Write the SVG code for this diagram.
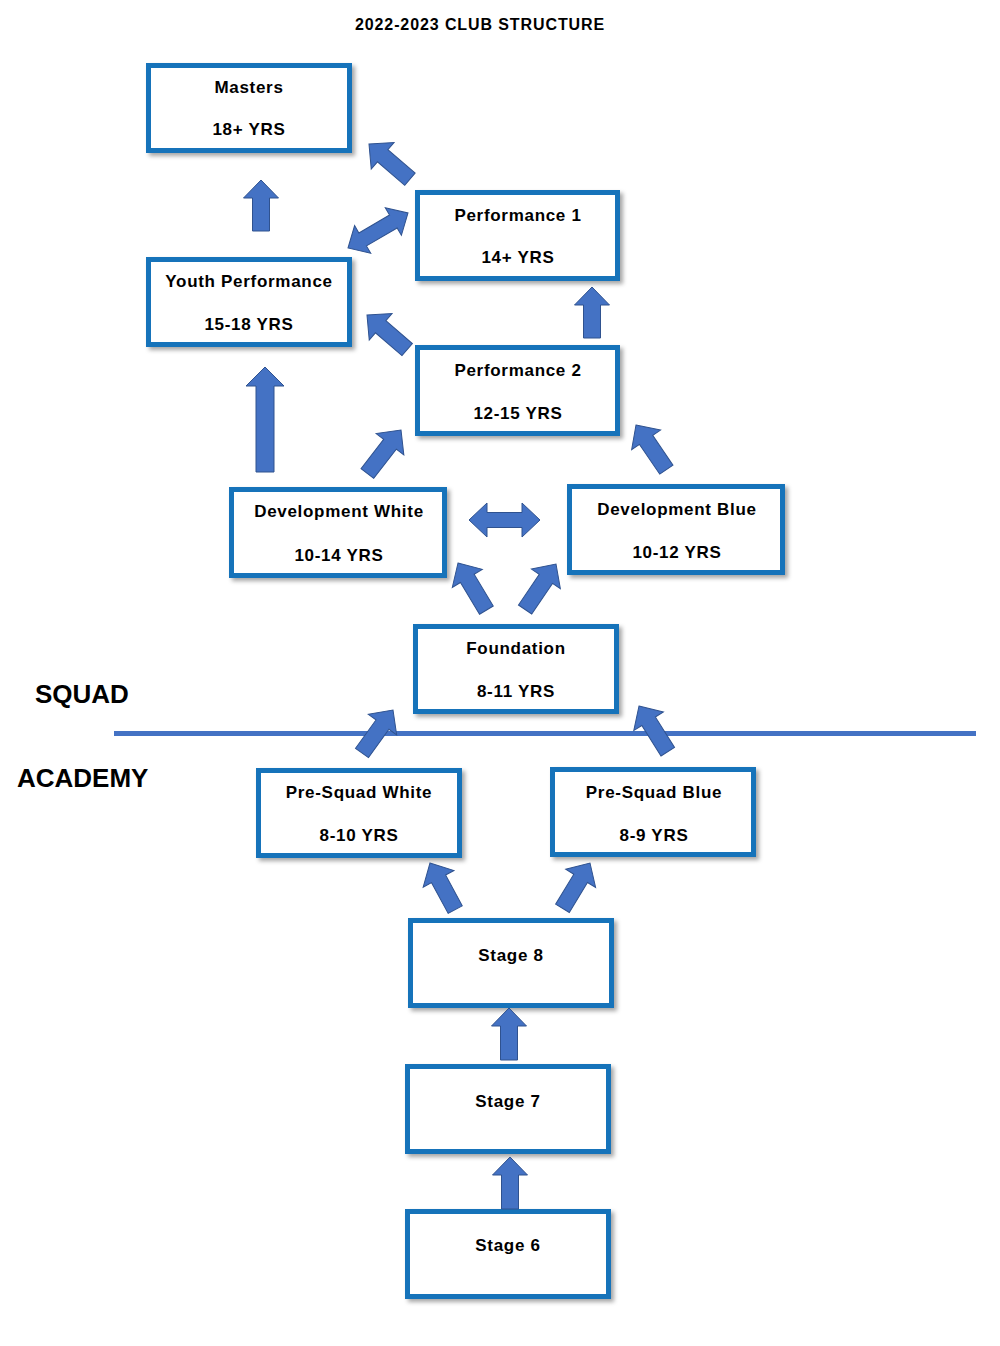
<svg xmlns="http://www.w3.org/2000/svg" width="1000" height="1346" viewBox="0 0 1000 1346">
<defs>
<filter id="sh" x="-10%" y="-10%" width="130%" height="130%">
<feDropShadow dx="3" dy="3" stdDeviation="2" flood-color="#000" flood-opacity="0.35"/>
</filter>
<style>
.box{fill:#fff;stroke:#1873ba;stroke-width:5;filter:url(#sh)}
.t{font-family:"Liberation Sans",Arial,sans-serif;font-weight:bold;font-size:17px;fill:#000;text-anchor:middle;letter-spacing:0.7px}
.big{font-family:"Liberation Sans",Arial,sans-serif;font-weight:bold;font-size:26px;fill:#000}
.ar{fill:#4472c4;stroke:#2f528f;stroke-width:1}
</style>
</defs>
<rect width="1000" height="1346" fill="#fff"/>
<text class="t" x="480" y="30" style="font-size:16px;letter-spacing:0.9px">2022-2023 CLUB STRUCTURE</text>
<text class="big" x="35" y="703">SQUAD</text>
<text class="big" x="17" y="787">ACADEMY</text>
<line x1="114" y1="733.5" x2="976" y2="733.5" stroke="#4472c4" stroke-width="5"/>

<g id="masters"><rect class="box" x="148.5" y="65.5" width="201" height="85"/><text class="t" x="249" y="93">Masters</text><text class="t" x="249" y="135">18+ YRS</text></g>
<g id="performance1"><rect class="box" x="417.5" y="192.5" width="200" height="86"/><text class="t" x="518" y="221">Performance 1</text><text class="t" x="518" y="263">14+ YRS</text></g>
<g id="youth"><rect class="box" x="148.5" y="259.5" width="201" height="85"/><text class="t" x="249" y="287">Youth Performance</text><text class="t" x="249" y="330">15-18 YRS</text></g>
<g id="performance2"><rect class="box" x="417.5" y="347.5" width="200" height="86"/><text class="t" x="518" y="376">Performance 2</text><text class="t" x="518" y="419">12-15 YRS</text></g>
<g id="devwhite"><rect class="box" x="231.5" y="489.5" width="213" height="86"/><text class="t" x="339" y="517">Development White</text><text class="t" x="339" y="561">10-14 YRS</text></g>
<g id="devblue"><rect class="box" x="569.5" y="486.5" width="213" height="86"/><text class="t" x="677" y="515">Development Blue</text><text class="t" x="677" y="558">10-12 YRS</text></g>
<g id="foundation"><rect class="box" x="415.5" y="626.5" width="201" height="85"/><text class="t" x="516" y="654">Foundation</text><text class="t" x="516" y="697">8-11 YRS</text></g>
<g id="presquadwhite"><rect class="box" x="258.5" y="770.5" width="201" height="85"/><text class="t" x="359" y="798">Pre-Squad White</text><text class="t" x="359" y="841">8-10 YRS</text></g>
<g id="presquadblue"><rect class="box" x="552.5" y="769.5" width="201" height="85"/><text class="t" x="654" y="798">Pre-Squad Blue</text><text class="t" x="654" y="841">8-9 YRS</text></g>
<g id="stage8"><rect class="box" x="410.5" y="920.5" width="201" height="85"/><text class="t" x="511" y="961">Stage 8</text></g>
<g id="stage7"><rect class="box" x="407.5" y="1066.5" width="201" height="85"/><text class="t" x="508" y="1107">Stage 7</text></g>
<g id="stage6"><rect class="box" x="407.5" y="1211.5" width="201" height="85"/><text class="t" x="508" y="1251">Stage 6</text></g>

<g id="connectors">
<path class="ar" transform="translate(261,180)" d="M0,0 L17.5,18 L8.5,18 L8.5,51 L-8.5,51 L-8.5,18 L-17.5,18 Z"/>
<path class="ar" transform="translate(369,144) rotate(-49.3)" d="M0,0 L17.5,18 L8,18 L8,54 L-8,54 L-8,18 L-17.5,18 Z"/>
<path class="ar" transform="translate(348,248) rotate(-120.3)" d="M0,0 L16,17 L7.5,17 L7.5,52.5 L16,52.5 L0,69.5 L-16,52.5 L-7.5,52.5 L-7.5,17 L-16,17 Z"/>
<path class="ar" transform="translate(367,315) rotate(-49.3)" d="M0,0 L17.5,18 L8,18 L8,53 L-8,53 L-8,18 L-17.5,18 Z"/>
<path class="ar" transform="translate(592,287)" d="M0,0 L17.5,18 L8.5,18 L8.5,51 L-8.5,51 L-8.5,18 L-17.5,18 Z"/>
<path class="ar" transform="translate(265,367)" d="M0,0 L19,19 L9,19 L9,105 L-9,105 L-9,19 L-19,19 Z"/>
<path class="ar" transform="translate(401,430) rotate(37.7)" d="M0,0 L17.5,18 L8,18 L8,55 L-8,55 L-8,18 L-17.5,18 Z"/>
<path class="ar" transform="translate(636,425) rotate(-34.2)" d="M0,0 L17.5,18 L8,18 L8,54 L-8,54 L-8,18 L-17.5,18 Z"/>
<path class="ar" transform="translate(469,520) rotate(-90)" d="M0,0 L17,18 L7.5,18 L7.5,53 L17,53 L0,71 L-17,53 L-7.5,53 L-7.5,18 L-17,18 Z"/>
<path class="ar" transform="translate(458,563) rotate(-31.1)" d="M0,0 L17.5,18 L8,18 L8,55 L-8,55 L-8,18 L-17.5,18 Z"/>
<path class="ar" transform="translate(556,564) rotate(34.2)" d="M0,0 L17.5,18 L8,18 L8,55 L-8,55 L-8,18 L-17.5,18 Z"/>
<path class="ar" transform="translate(393,710) rotate(35.8)" d="M0,0 L17.5,18 L8,18 L8,53 L-8,53 L-8,18 L-17.5,18 Z"/>
<path class="ar" transform="translate(639,706) rotate(-32.2)" d="M0,0 L17.5,18 L8,18 L8,54 L-8,54 L-8,18 L-17.5,18 Z"/>
<path class="ar" transform="translate(430,863) rotate(-28.4)" d="M0,0 L17.5,18 L8,18 L8,53 L-8,53 L-8,18 L-17.5,18 Z"/>
<path class="ar" transform="translate(590,863) rotate(31.3)" d="M0,0 L17.5,18 L8,18 L8,53 L-8,53 L-8,18 L-17.5,18 Z"/>
<path class="ar" transform="translate(509,1008)" d="M0,0 L17.5,18 L8.5,18 L8.5,52 L-8.5,52 L-8.5,18 L-17.5,18 Z"/>
<path class="ar" transform="translate(510,1157)" d="M0,0 L17.5,18 L8.5,18 L8.5,52 L-8.5,52 L-8.5,18 L-17.5,18 Z"/>
</g>
</svg>
